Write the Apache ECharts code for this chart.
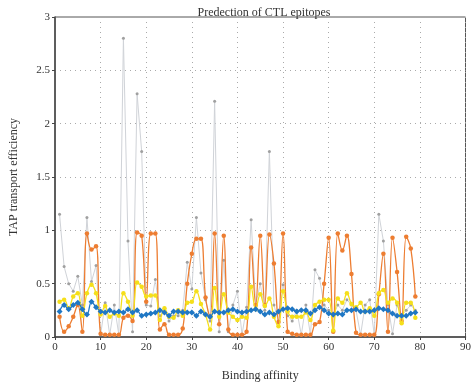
<!DOCTYPE html>
<html>
<head>
<meta charset="utf-8">
<script src="https://cdn.jsdelivr.net/npm/echarts@6/dist/echarts.min.js"></script>
<style>
html,body{margin:0;padding:0;background:#fff;}
#chart{width:474px;height:387px;}
</style>
</head>
<body>
<div id="chart"></div>
<script>
var positions = [1,2,3,4,5,6,7,8,9,10,11,12,13,14,15,16,17,18,19,20,21,22,23,24,25,26,27,28,29,30,31,32,33,34,35,36,37,38,39,40,41,42,43,44,45,46,47,48,49,50,51,52,53,54,55,56,57,58,59,60,61,62,63,64,65,66,67,68,69,70,71,72,73,74,75,76,77,78,79];

var grayValues = [1.15,0.66,0.50,0.43,0.57,0.30,1.12,0.52,0.67,0.02,0.32,0.02,0.30,0.02,2.80,0.90,0.05,2.28,1.74,0.30,0.29,0.54,0.20,0.25,0.15,0.20,0.20,0.25,0.70,0.45,1.12,0.60,0.35,0.15,2.21,0.05,0.72,0.05,0.30,0.43,0.02,0.28,1.10,0.30,0.50,0.25,1.74,0.30,0.15,0.49,0.20,0.15,0.25,0.02,0.30,0.02,0.63,0.55,0.30,0.25,0.20,0.30,0.25,0.35,0.30,0.25,0.02,0.30,0.35,0.02,1.15,0.90,0.30,0.03,0.30,0.20,0.25,0.30,0.25];

var orangeValues = [0.19,0.05,0.10,0.19,0.30,0.05,0.97,0.82,0.85,0.03,0.02,0.02,0.02,0.02,0.18,0.20,0.15,0.98,0.95,0.33,0.97,0.97,0.07,0.12,0.02,0.02,0.02,0.08,0.50,0.78,0.92,0.92,0.37,0.19,0.97,0.12,0.95,0.07,0.02,0.02,0.02,0.05,0.84,0.30,0.95,0.30,0.96,0.69,0.14,0.97,0.05,0.03,0.02,0.02,0.02,0.02,0.12,0.14,0.50,0.93,0.05,0.97,0.81,0.95,0.59,0.04,0.02,0.02,0.02,0.02,0.40,0.78,0.05,0.93,0.61,0.15,0.94,0.83,0.38];

var yellowValues = [0.33,0.35,0.27,0.38,0.41,0.20,0.41,0.49,0.41,0.21,0.29,0.19,0.22,0.20,0.41,0.33,0.20,0.51,0.47,0.38,0.39,0.39,0.16,0.27,0.19,0.18,0.25,0.20,0.32,0.33,0.43,0.31,0.21,0.07,0.46,0.19,0.40,0.23,0.19,0.16,0.19,0.18,0.47,0.26,0.40,0.29,0.36,0.19,0.10,0.43,0.24,0.19,0.19,0.19,0.23,0.16,0.30,0.33,0.35,0.35,0.06,0.36,0.32,0.41,0.31,0.28,0.32,0.24,0.27,0.20,0.41,0.44,0.32,0.36,0.32,0.13,0.32,0.32,0.18];

var blueValues = [0.24,0.30,0.26,0.30,0.32,0.26,0.21,0.33,0.28,0.24,0.23,0.25,0.23,0.24,0.23,0.26,0.23,0.25,0.20,0.21,0.22,0.23,0.25,0.23,0.20,0.24,0.24,0.23,0.23,0.23,0.20,0.24,0.21,0.19,0.24,0.23,0.23,0.25,0.26,0.24,0.23,0.24,0.25,0.26,0.24,0.21,0.23,0.21,0.24,0.26,0.27,0.26,0.24,0.25,0.25,0.22,0.25,0.28,0.25,0.22,0.21,0.22,0.21,0.25,0.25,0.26,0.24,0.24,0.24,0.25,0.27,0.26,0.25,0.22,0.20,0.20,0.20,0.22,0.23];

var xTickLabels = ['0','10','20','30','40','50','60','70','80','90'];
var yTickLabels = ['0','0.5','1','1.5','2','2.5','3'];

function pairs(vals){ return positions.map(function(x,i){ return [x, vals[i]]; }); }

var font = '"Liberation Serif", "DejaVu Serif", serif';
var chart = echarts.init(document.getElementById('chart'));
chart.setOption({
  animation: false,
  backgroundColor: '#fff',
  title: {
    text: 'Predection of CTL epitopes',
    left: 259, top: 2, textAlign: 'center',
    textStyle: {fontFamily: font, fontSize: 12, fontWeight: 'normal', color: '#333'}
  },
  grid: {left: 50, right: 6, top: 17, bottom: 46, show: true, borderColor: '#555', borderWidth: 1, backgroundColor: 'transparent'},
  xAxis: {
    type: 'value', min: 0, max: 90, interval: 10,
    name: 'Binding affinity', nameLocation: 'middle', nameGap: 33,
    nameTextStyle: {fontFamily: font, fontSize: 12, color: '#333'},
    axisLine: {show: true, lineStyle: {color: '#444', width: 1.5}},
    axisTick: {show: true, inside: false, length: 3, lineStyle: {color: '#444'}},
    axisLabel: {fontFamily: font, fontSize: 11, color: '#333', margin: 5,
      formatter: function(v){ return xTickLabels[Math.round(v/10)]; }},
    splitLine: {show: true, lineStyle: {color: '#aaa', type: [1,4], width: 1}}
  },
  yAxis: {
    type: 'value', min: 0, max: 3, interval: 0.5,
    name: 'TAP transport efficiency', nameLocation: 'middle', nameGap: 35,
    nameTextStyle: {fontFamily: font, fontSize: 12, color: '#333'},
    axisLine: {show: true, lineStyle: {color: '#444', width: 1.5}},
    axisTick: {show: true, inside: false, length: 3, lineStyle: {color: '#444'}},
    axisLabel: {fontFamily: font, fontSize: 11, color: '#333', margin: 5,
      formatter: function(v){ return yTickLabels[Math.round(v*2)]; }},
    splitLine: {show: true, lineStyle: {color: '#aaa', type: [1,4], width: 1}}
  },
  series: [
    {type: 'line', data: pairs(grayValues), smooth: false, symbol: 'circle', symbolSize: 3,
     lineStyle: {color: '#d0d3d8', width: 1}, itemStyle: {color: '#a0a0a0'}, z: 2},
    {type: 'line', data: pairs(orangeValues), smooth: 0.4, symbol: 'circle', symbolSize: 4.5,
     lineStyle: {color: '#ED7D31', width: 1.3}, itemStyle: {color: '#ED7D31'}, z: 3},
    {type: 'line', data: pairs(yellowValues), smooth: 0.4, symbol: 'circle', symbolSize: 4.5,
     lineStyle: {color: '#F5DF1A', width: 1.3}, itemStyle: {color: '#F5DF1A'}, z: 4},
    {type: 'line', data: pairs(blueValues), smooth: 0.4, symbol: 'diamond', symbolSize: 6,
     lineStyle: {color: '#1F77C4', width: 1.3}, itemStyle: {color: '#1F77C4'}, z: 5}
  ]
});
</script>
</body>
</html>
